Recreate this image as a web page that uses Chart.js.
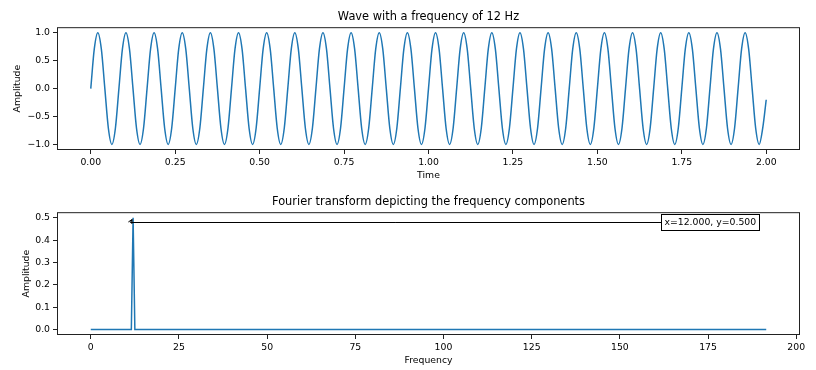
<!DOCTYPE html>
<html>
<head>
<meta charset="utf-8">
<title>Wave and Fourier transform</title>
<script src="https://cdn.jsdelivr.net/npm/chart.js@4.4.0/dist/chart.umd.min.js"></script>
<style>
    html, body { margin: 0; padding: 0; background: #fff; }
    .panel { position: absolute; left: 0; width: 816px; height: 185px; }
    #wavePanel { top: 0; }
    #fftPanel { top: 185px; }
</style>
</head>
<body>
<div class="panel" id="wavePanel"><canvas id="waveChart" width="816" height="185"></canvas></div>
<div class="panel" id="fftPanel"><canvas id="fftChart" width="816" height="185"></canvas></div>
<script>
// Top plot: 12 Hz wave, 8 samples read per cycle
const waveSampleRate = 96;
const waveValues = [
    0, 0.71, 1, 0.71, 0, -0.71, -1, -0.71,
    0, 0.71, 1, 0.71, 0, -0.71, -1, -0.71,
    0, 0.71, 1, 0.71, 0, -0.71, -1, -0.71,
    0, 0.71, 1, 0.71, 0, -0.71, -1, -0.71,
    0, 0.71, 1, 0.71, 0, -0.71, -1, -0.71,
    0, 0.71, 1, 0.71, 0, -0.71, -1, -0.71,
    0, 0.71, 1, 0.71, 0, -0.71, -1, -0.71,
    0, 0.71, 1, 0.71, 0, -0.71, -1, -0.71,
    0, 0.71, 1, 0.71, 0, -0.71, -1, -0.71,
    0, 0.71, 1, 0.71, 0, -0.71, -1, -0.71,
    0, 0.71, 1, 0.71, 0, -0.71, -1, -0.71,
    0, 0.71, 1, 0.71, 0, -0.71, -1, -0.71,
    0, 0.71, 1, 0.71, 0, -0.71, -1, -0.71,
    0, 0.71, 1, 0.71, 0, -0.71, -1, -0.71,
    0, 0.71, 1, 0.71, 0, -0.71, -1, -0.71,
    0, 0.71, 1, 0.71, 0, -0.71, -1, -0.71,
    0, 0.71, 1, 0.71, 0, -0.71, -1, -0.71,
    0, 0.71, 1, 0.71, 0, -0.71, -1, -0.71,
    0, 0.71, 1, 0.71, 0, -0.71, -1, -0.71,
    0, 0.71, 1, 0.71, 0, -0.71, -1, -0.71,
    0, 0.71, 1, 0.71, 0, -0.71, -1, -0.71,
    0, 0.71, 1, 0.71, 0, -0.71, -1, -0.71,
    0, 0.71, 1, 0.71, 0, -0.71, -1, -0.71,
    0, 0.71, 1, 0.71, 0, -0.71, -1, -0.71,
    -0.2
];
const timeTicks = [0, 0.25, 0.5, 0.75, 1, 1.25, 1.5, 1.75, 2];
const waveTicks = [-1, -0.5, 0, 0.5, 1];

// Bottom plot: amplitude spectrum
const freqBins = [0, 11.5, 12, 12.5, 191.5];
const spectrumAmp = [0, 0, 0.5, 0, 0];
const freqTicks = [0, 25, 50, 75, 100, 125, 150, 175, 200];
const ampTicks = [0, 0.1, 0.2, 0.3, 0.4, 0.5];

const LINE_COLOR = '#1f77b4';
const FONT = 'DejaVu Sans';
const SMALL = 9.3;
const TITLE_SIZE = 11.4;

Chart.defaults.font.family = FONT;
Chart.defaults.color = '#000';

const minusSign = s => s.replace('-', '\u2212');

// Draw the four spines round the plot area
const frameBox = {
    id: 'frameBox',
    afterDatasetsDraw(chart) {
        const { ctx, chartArea: a } = chart;
        ctx.save();
        ctx.strokeStyle = '#222';
        ctx.lineWidth = 1;
        ctx.strokeRect(a.left + 0.5, a.top + 0.5, a.right - a.left - 1, a.bottom - a.top - 1);
        ctx.restore();
    }
};

// Peak annotation like matplotlib's annotate (text box + angled arrow)
const peakNote = {
    id: 'peakNote',
    afterDraw(chart) {
        const { ctx, chartArea: a, scales } = chart;
        let idx = 0;
        spectrumAmp.forEach((v, i) => { if (v > spectrumAmp[idx]) idx = i; });
        const label = `x=${freqBins[idx].toFixed(3)}, y=${spectrumAmp[idx].toFixed(3)}`;

        ctx.save();
        ctx.font = `${SMALL}px "${FONT}"`;
        const tw = ctx.measureText(label).width;
        const pad = 3;
        const textRight = a.left + 0.94 * (a.right - a.left);
        const textTop = a.top + 0.04 * (a.bottom - a.top);
        const bx = Math.round(textRight - tw - pad) + 0.5;
        const by = Math.round(textTop - pad) + 0.5;
        const bw = Math.round(tw + 2 * pad);
        const bh = 16;
        const midY = by + bh / 2;

        const px = scales.x.getPixelForValue(freqBins[idx]);
        const py = scales.y.getPixelForValue(spectrumAmp[idx]);
        const cornerX = px - (midY - py) / Math.tan(Math.PI / 3);
        const dx = cornerX - px, dy = midY - py;
        const len = Math.hypot(dx, dy) || 1;
        const tipX = px + dx / len * 2, tipY = py + dy / len * 2;

        ctx.strokeStyle = '#000';
        ctx.lineWidth = 1;
        ctx.beginPath();
        ctx.moveTo(bx, midY);
        ctx.lineTo(cornerX, midY);
        ctx.lineTo(tipX, tipY);
        ctx.stroke();

        // open arrow head
        const ang = Math.atan2(tipY - midY, tipX - cornerX);
        ctx.beginPath();
        ctx.moveTo(tipX - 4 * Math.cos(ang) + 2 * Math.sin(ang), tipY - 4 * Math.sin(ang) - 2 * Math.cos(ang));
        ctx.lineTo(tipX, tipY);
        ctx.lineTo(tipX - 4 * Math.cos(ang) - 2 * Math.sin(ang), tipY - 4 * Math.sin(ang) + 2 * Math.cos(ang));
        ctx.stroke();

        ctx.fillStyle = '#fff';
        ctx.fillRect(bx, by, bw, bh);
        ctx.strokeStyle = '#000';
        ctx.strokeRect(bx, by, bw, bh);
        ctx.fillStyle = '#000';
        ctx.textBaseline = 'middle';
        ctx.textAlign = 'left';
        ctx.fillText(label, bx + pad, midY);
        ctx.restore();
    }
};

function axisOptions(ticks, format, min, max, size, title, titlePadding) {
    return {
        type: 'linear',
        min: min,
        max: max,
        afterBuildTicks: scale => { scale.ticks = ticks.map(v => ({ value: v })); },
        afterFit: scale => {
            if (scale.isHorizontal()) scale.height = size; else scale.width = size;
        },
        grid: { drawOnChartArea: false, drawTicks: true, tickLength: 4, tickColor: '#222', tickWidth: 1 },
        border: { display: false },
        ticks: { padding: 3, color: '#000', font: { size: SMALL }, maxRotation: 0, autoSkip: false, callback: format },
        title: { display: true, text: title, color: '#000', font: { size: SMALL }, padding: titlePadding }
    };
}

function baseOptions(titleText, xScale, yScale) {
    return {
        responsive: false,
        animation: false,
        layout: { padding: { left: 0, right: 16, top: 0, bottom: 4 } },
        plugins: {
            legend: { display: false },
            tooltip: { enabled: false },
            title: {
                display: true,
                fullSize: false,
                text: titleText,
                color: '#000',
                font: { size: TITLE_SIZE, weight: 'normal' },
                padding: { top: 10, bottom: 3.5 }
            }
        },
        scales: { x: xScale, y: yScale }
    };
}

const waveTimes = waveValues.map((_, i) => i / waveSampleRate);

new Chart(document.getElementById('waveChart'), {
    type: 'line',
    data: {
        labels: waveTimes,
        datasets: [{
            data: waveValues,
            borderColor: LINE_COLOR,
            borderWidth: 1.5,
            pointRadius: 0,
            cubicInterpolationMode: 'monotone',
            fill: false
        }]
    },
    options: baseOptions(
        'Wave with a frequency of 12 Hz',
        axisOptions(timeTicks, v => v.toFixed(2), -0.1, 2.1, 31, 'Time', { top: 0, bottom: 0 }),
        axisOptions(waveTicks, v => minusSign(v.toFixed(1)), -1.1, 1.1, 57, 'Amplitude', { top: 12.5, bottom: 0 })
    ),
    plugins: [frameBox]
});

new Chart(document.getElementById('fftChart'), {
    type: 'line',
    data: {
        labels: freqBins,
        datasets: [{
            data: spectrumAmp,
            borderColor: LINE_COLOR,
            borderWidth: 1.5,
            pointRadius: 0,
            tension: 0,
            fill: false
        }]
    },
    options: baseOptions(
        'Fourier transform depicting the frequency components',
        axisOptions(freqTicks, v => String(v), -9.575, 201.075, 31, 'Frequency', { top: 0, bottom: 0 }),
        axisOptions(ampTicks, v => v.toFixed(1), -0.025, 0.525, 57, 'Amplitude', { top: 21, bottom: 0 })
    ),
    plugins: [frameBox, peakNote]
});
</script>
</body>
</html>
